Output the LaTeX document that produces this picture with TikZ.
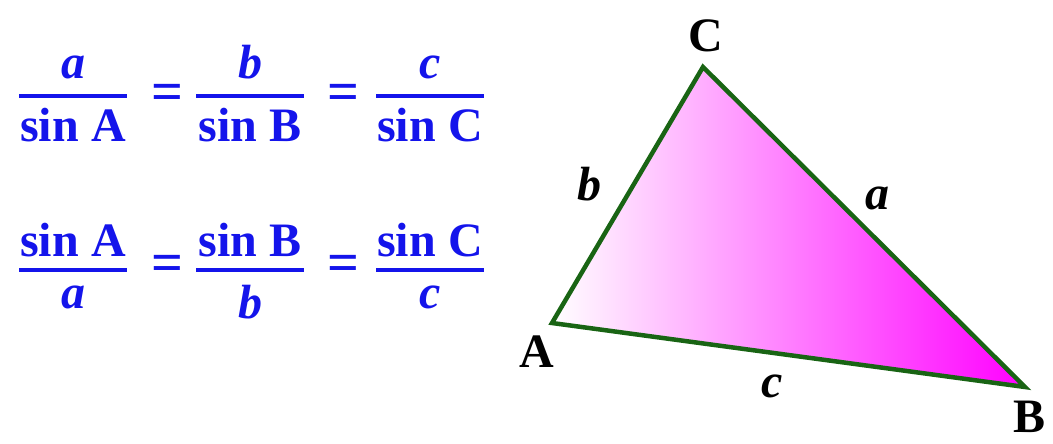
\documentclass[tikz,border=0pt]{standalone}
\usepackage{fontspec}
\setmainfont{Liberation Serif}
\definecolor{ratioblue}{RGB}{20,20,235}
\definecolor{edgegreen}{RGB}{25,100,20}
\tikzset{
  ratio/.style={text=ratioblue, font=\fontsize{48}{48}\selectfont\bfseries, inner sep=0pt},
  equals/.style={ratio, font=\fontsize{56}{56}\selectfont\bfseries},
  side/.style={font=\fontsize{48}{48}\selectfont\bfseries\itshape, inner sep=0pt},
  vertex/.style={font=\fontsize{48}{48}\selectfont\bfseries, inner sep=0pt},
  bar/.style={ratioblue, line width=3.5pt}
}
\begin{document}
\begin{tikzpicture}[x=1pt,y=-1pt]
  \useasboundingbox (0,0) rectangle (1053,444);

  % first row, numerators
  \node[ratio, anchor=base] (na1) at (73,79)  {\itshape a};
  \node[ratio, anchor=base] (nb1) at (250,79) {\itshape b};
  \node[ratio, anchor=base] (nc1) at (430,79) {\itshape c};
  % first row, denominators
  \node[ratio, anchor=base] (da1) at (73,142)  {sin A};
  \node[ratio, anchor=base] (db1) at (250,142) {sin B};
  \node[ratio, anchor=base] (dc1) at (430,142) {sin C};
  % bars first row
  \foreach \x in {73,250,430}
    \draw[bar] (\x-54,96) -- (\x+54,96);
  % equal signs first row
  \node[equals] (eqa1) at (167,97) {=};
  \node[equals] (eqb1) at (343,97) {=};

  % second row, numerators
  \node[ratio, anchor=base] (na2) at (73,256)  {sin A};
  \node[ratio, anchor=base] (nb2) at (250,256) {sin B};
  \node[ratio, anchor=base] (nc2) at (430,256) {sin C};
  % second row, denominators
  \node[ratio, anchor=base] (da2) at (73,308)  {\itshape a};
  \node[ratio, anchor=base] (db2) at (250,318) {\itshape b};
  \node[ratio, anchor=base] (dc2) at (430,308) {\itshape c};
  % bars second row
  \foreach \x in {73,250,430}
    \draw[bar] (\x-54,270) -- (\x+54,270);
  % equal signs second row
  \node[equals] (eqa2) at (167,268) {=};
  \node[equals] (eqb2) at (343,268) {=};

  % triangle
  \coordinate (A) at (552,323);
  \coordinate (B) at (1025,387);
  \coordinate (C) at (703,67);
  \shade[left color=white, right color=magenta] (A) -- (B) -- (C) -- cycle;
  \draw[edgegreen, line width=4.5pt] (A) -- (B) -- (C) -- cycle;

  % vertex labels
  \node[vertex] (lA) at (537,352)  {A};
  \node[vertex] (lB) at (1029,417) {B};
  \node[vertex] (lC) at (706,36)   {C};
  % side labels
  \node[side] (la) at (877,198) {a};
  \node[side] (lb) at (589,184) {b};
  \node[side] (lc) at (772,386) {c};

\end{tikzpicture}
\end{document}
